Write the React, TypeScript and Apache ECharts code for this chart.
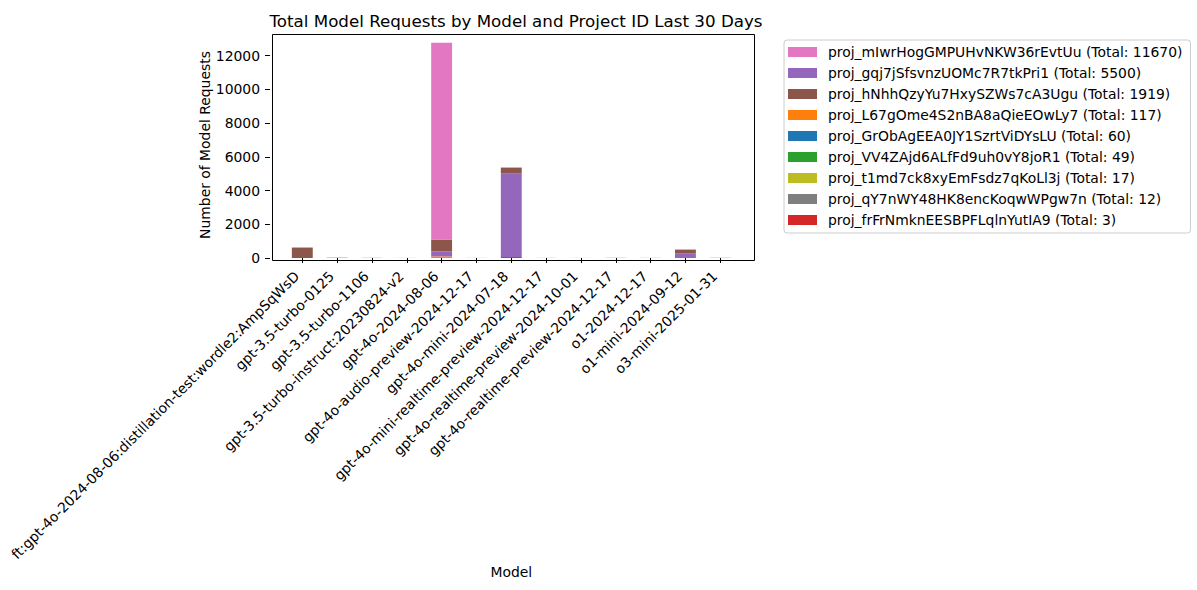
import React, { useEffect, useRef } from 'react';
import * as echarts from 'echarts';

const models = [
  'ft:gpt-4o-2024-08-06:distillation-test:wordle2:AmpSqWsD',
  'gpt-3.5-turbo-0125',
  'gpt-3.5-turbo-1106',
  'gpt-3.5-turbo-instruct:20230824-v2',
  'gpt-4o-2024-08-06',
  'gpt-4o-audio-preview-2024-12-17',
  'gpt-4o-mini-2024-07-18',
  'gpt-4o-mini-realtime-preview-2024-12-17',
  'gpt-4o-realtime-preview-2024-10-01',
  'gpt-4o-realtime-preview-2024-12-17',
  'o1-2024-12-17',
  'o1-mini-2024-09-12',
  'o3-mini-2025-01-31',
];

// stacking order (bottom to top), one array per project
const projects = [
  'proj_GrObAgEEA0JY1SzrtViDYsLU',
  'proj_L67gOme4S2nBA8aQieEOwLy7',
  'proj_VV4ZAjd6ALfFd9uh0vY8joR1',
  'proj_frFrNmknEESBPFLqlnYutIA9',
  'proj_gqj7jSfsvnzUOMc7R7tkPri1',
  'proj_hNhhQzyYu7HxySZWs7cA3Ugu',
  'proj_mIwrHogGMPUHvNKW36rEvtUu',
  'proj_qY7nWY48HK8encKoqwWPgw7n',
  'proj_t1md7ck8xyEmFsdz7qKoLl3j',
];

const grObValues = [0, 0, 0, 0, 0, 0, 60, 0, 0, 0, 0, 0, 0];
const l67gValues = [0, 0, 0, 0, 95, 7, 0, 0, 0, 0, 10, 0, 5];
const vv4zValues = [0, 20, 10, 0, 0, 0, 0, 0, 0, 10, 0, 0, 9];
const frFrValues = [0, 0, 0, 0, 0, 0, 0, 0, 3, 0, 0, 0, 0];
const gqj7Values = [0, 0, 0, 0, 300, 0, 4940, 0, 0, 0, 0, 260, 0];
const hNhhValues = [620, 0, 0, 0, 700, 0, 360, 0, 0, 0, 0, 239, 0];
const mIwrValues = [0, 0, 0, 0, 11670, 0, 0, 0, 0, 0, 0, 0, 0];
const qY7nValues = [0, 0, 0, 5, 0, 0, 0, 7, 0, 0, 0, 0, 0];
const t1mdValues = [0, 0, 0, 0, 0, 0, 17, 0, 0, 0, 0, 0, 0];

const projectValues = [
  grObValues,
  l67gValues,
  vv4zValues,
  frFrValues,
  gqj7Values,
  hNhhValues,
  mIwrValues,
  qY7nValues,
  t1mdValues,
];

const colors = [
  '#1f77b4',
  '#ff7f0e',
  '#2ca02c',
  '#d62728',
  '#9467bd',
  '#8c564b',
  '#e377c2',
  '#7f7f7f',
  '#bcbd22',
];

const yTicks = [0, 2000, 4000, 6000, 8000, 10000, 12000];

const FONT = 'DejaVu Sans';

// axes frame (matplotlib spines) and the inner band area used by the categories
const FRAME = { left: 270, top: 32, width: 482, height: 226 };
const BAND = 34.83;
const GRID_LEFT = 302.3 - BAND / 2;

function buildOption() {
  const totals = projectValues.map(vals => vals.reduce((a, b) => a + b, 0));
  const labels = projects.map((p, i) => `${p} (Total: ${totals[i]})`);
  const legendOrder = labels
    .map((label, i) => ({ label, total: totals[i] }))
    .sort((a, b) => b.total - a.total)
    .map(d => d.label);

  const stackTops = models.map((_, m) => projectValues.reduce((s, vals) => s + vals[m], 0));
  const yMax = Math.max(...stackTops) * 1.05;

  return {
    animation: false,
    textStyle: { fontFamily: FONT, color: '#000' },
    title: {
      text: 'Total Model Requests by Model and Project ID Last 30 Days',
      left: FRAME.left + FRAME.width / 2,
      top: 7,
      textAlign: 'center',
      textStyle: { fontFamily: FONT, fontSize: 16.7, fontWeight: 'normal', color: '#000' },
    },
    legend: {
      orient: 'vertical',
      left: 784,
      top: 40,
      data: legendOrder,
      icon: 'rect',
      itemWidth: 29,
      itemHeight: 10,
      itemGap: 7,
      padding: [5, 8, 6, 4],
      borderColor: '#cccccc',
      borderWidth: 1,
      borderRadius: 3,
      backgroundColor: '#ffffff',
      selectedMode: false,
      textStyle: {
        fontFamily: FONT,
        fontSize: 13.9,
        lineHeight: 14,
        color: '#000',
        padding: [0, 0, 0, 6],
      },
    },
    grid: {
      left: GRID_LEFT,
      top: FRAME.top,
      width: BAND * models.length,
      height: FRAME.height,
    },
    graphic: [
      {
        type: 'rect',
        left: FRAME.left,
        top: FRAME.top,
        shape: { width: FRAME.width, height: FRAME.height },
        style: { fill: 'none', stroke: '#000', lineWidth: 1 },
        silent: true,
        z: 10,
      },
    ],
    xAxis: {
      type: 'category',
      data: models,
      name: 'Model',
      nameLocation: 'middle',
      nameGap: 307,
      nameTextStyle: { fontFamily: FONT, fontSize: 13.9, color: '#000' },
      axisLine: { show: false },
      axisTick: {
        show: true,
        length: 5,
        alignWithLabel: true,
        lineStyle: { color: '#000', width: 1 },
      },
      splitLine: { show: false },
      axisLabel: {
        interval: 0,
        rotate: 45,
        margin: 10,
        fontFamily: FONT,
        fontSize: 13.9,
        color: '#000',
        padding: [0, 8, 0, 0],
      },
    },
    yAxis: {
      type: 'value',
      min: 0,
      max: yMax,
      offset: GRID_LEFT - FRAME.left,
      name: 'Number of Model Requests',
      nameLocation: 'middle',
      nameRotate: 90,
      nameGap: 57,
      nameTextStyle: { fontFamily: FONT, fontSize: 13.9, color: '#000' },
      axisLine: { show: false, onZero: false },
      axisTick: {
        show: true,
        length: 5,
        customValues: yTicks,
        lineStyle: { color: '#000', width: 1 },
      },
      splitLine: { show: false },
      axisLabel: {
        customValues: yTicks,
        margin: 10,
        fontFamily: FONT,
        fontSize: 13.9,
        color: '#000',
        formatter: (v: number) => String(v),
      },
    },
    series: projects.map((_, i) => ({
      type: 'bar',
      name: labels[i],
      stack: 'total',
      barWidth: '60%',
      itemStyle: { color: colors[i] },
      emphasis: { disabled: true },
      data: projectValues[i],
    })),
  };
}

export default function App() {
  const containerRef = useRef<HTMLDivElement | null>(null);

  useEffect(() => {
    if (!containerRef.current) {
      return undefined;
    }
    const chart = echarts.init(containerRef.current, undefined, { renderer: 'svg' });
    chart.setOption(buildOption() as any);
    return () => {
      chart.dispose();
    };
  }, []);

  return (
    <div
      ref={containerRef}
      style={{ position: 'fixed', left: 0, top: 0, width: 1197, height: 590, background: '#fff' }}
    />
  );
}
